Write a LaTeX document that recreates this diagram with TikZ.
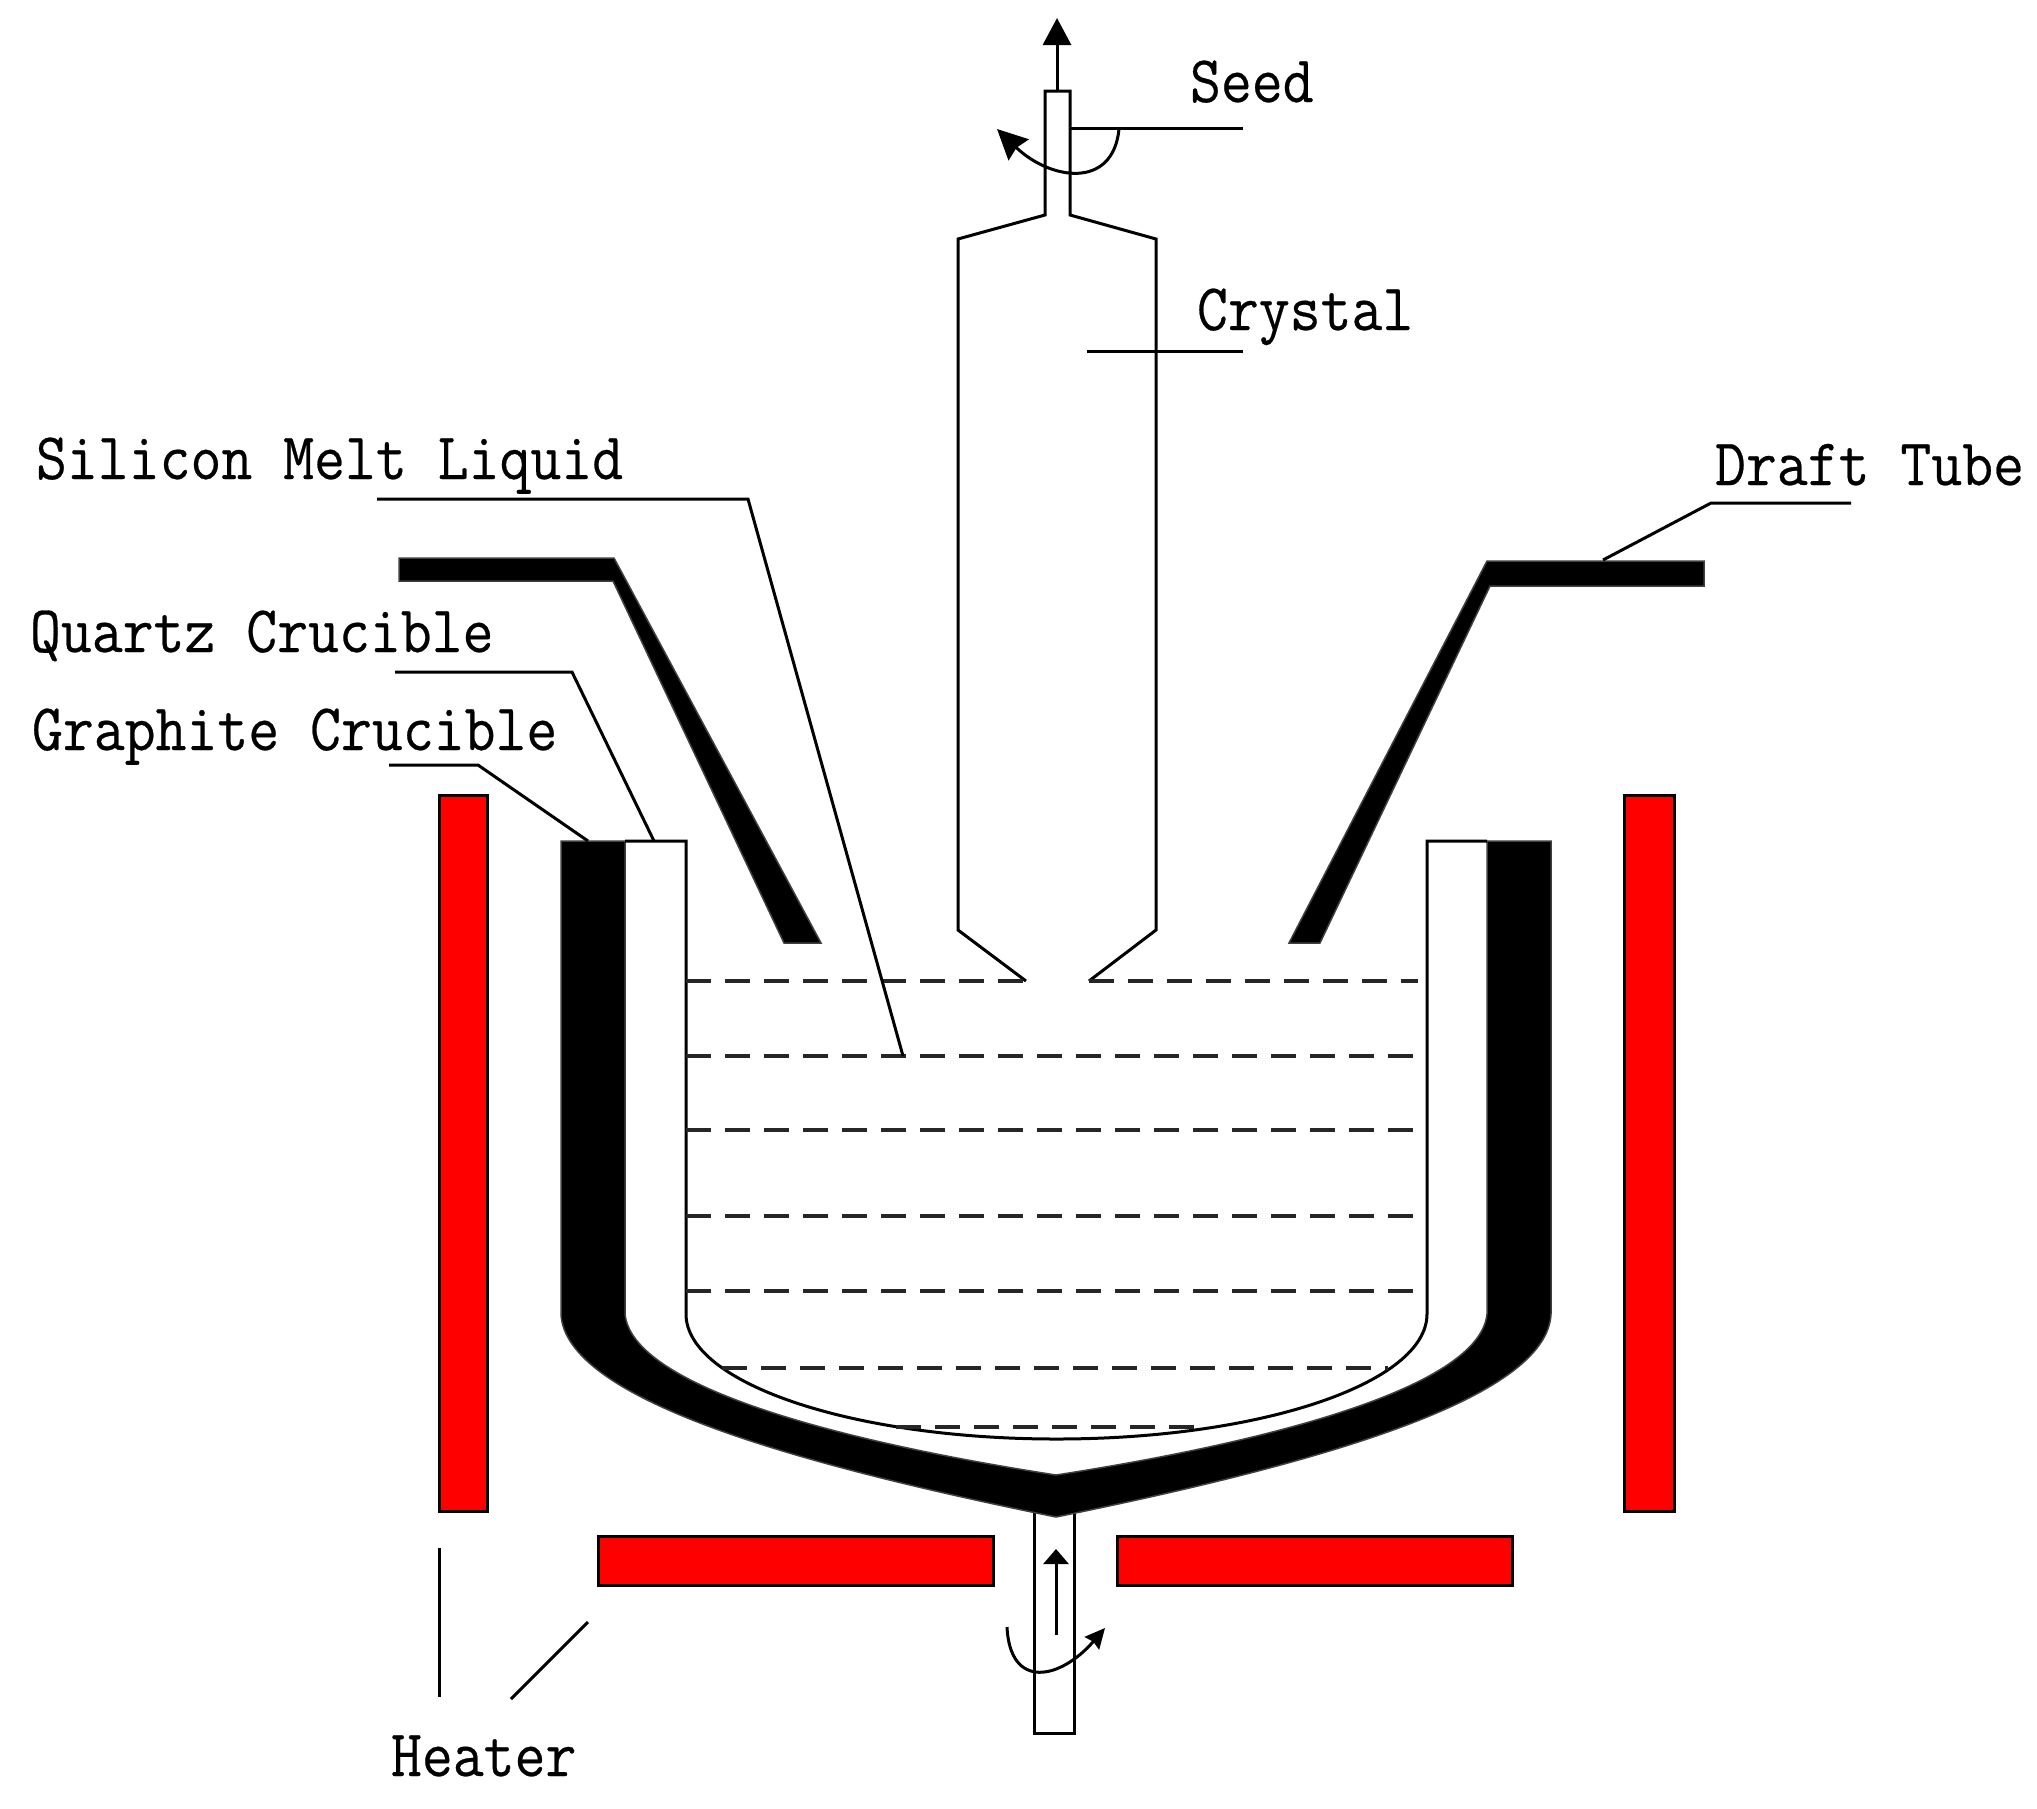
\documentclass[tikz,border=0pt]{standalone}
\usepackage{fontspec}
\newfontfamily\labfont[FakeBold=0.4]{Latin Modern Mono}
\usetikzlibrary{arrows.meta}
\definecolor{heat}{RGB}{255,0,0}
\tikzset{
  lab/.style={anchor=base west,inner sep=0pt,outer sep=0pt,font=\labfont\fontsize{60}{62}\selectfont,yscale=1.11,transform shape},
  ln/.style={line width=3pt,black},
  leader/.style={line width=3pt,black,line join=miter},
  heater/.style={draw=black,line width=3pt,fill=heat},
  solid body/.style={draw=black!75,line width=1.5pt,fill=black},
  melt/.style={line width=3.4pt,black!85,dash pattern=on 25pt off 14pt},
}
\begin{document}
\begin{tikzpicture}[x=1pt,y=-1pt,line join=miter]
\useasboundingbox[fill=white] (0,0) rectangle (2037,1808);
% labels
\node[lab] (seed) at (1190,102) {Seed};
\node[lab] (crystal) at (1197,330) {Crystal};
\node[lab] (melt) at (36,479) {Silicon Melt Liquid};
\node[lab] (quartz) at (30,652) {Quartz Crucible};
\node[lab] (graphite) at (32,750) {Graphite Crucible};
\node[lab] (draft) at (1715,485) {Draft Tube};
\node[lab] (heaterlab) at (391,1776) {Heater};
% lower shaft
\coordinate (shaftT) at (1056,1549);
\coordinate (shaftB) at (1056,1635);
\draw[ln,fill=white] (1034.5,1505) rectangle (1074.5,1733);
\draw[ln,-{Stealth[length=15pt,width=25pt,inset=0pt]}] (shaftB) -- (shaftT);
\coordinate (rotBs) at (1007,1627);
\coordinate (rotBe) at (1105,1628);
\draw[ln,-{Stealth[length=20pt,width=19pt,inset=2pt]}] (rotBs) .. controls (1010,1690) and (1060,1680) .. (rotBe);
% crystal
\draw[ln] (1026,981) -- (958,930) -- (958,239) -- (1045,215) -- (1045,91) -- (1070,91) -- (1070,215) -- (1156,239) -- (1156,930) -- (1089,981);
\coordinate (pullA) at (1057,91);
\coordinate (pullB) at (1057,18);
\draw[ln,-{Stealth[length=27pt,width=28pt,inset=0pt]}] (pullA) -- (pullB);
\coordinate (rotTs) at (1119,129);
\coordinate (rotTe) at (997,129);
\draw[ln,-{Stealth[length=30pt,width=29pt,inset=3pt]}] (rotTs) .. controls (1113,190) and (1050,180) .. (rotTe);
% draft tube
\draw[solid body] (399,558) -- (614,558) -- (821,943) -- (784,943) -- (613,581) -- (399,581) -- cycle;
\draw[solid body] (1487,561) -- (1704,561) -- (1704,586) -- (1490,586) -- (1320,943) -- (1289,943) -- cycle;
% graphite crucible
\draw[solid body] (561,841) -- (561,1314)
  .. controls (565,1400) and (800,1465) .. (1056,1517)
  .. controls (1312,1465) and (1547,1400) .. (1551,1314)
  -- (1551,841) -- (1487,841) -- (1487,1314)
  .. controls (1480,1385) and (1282,1440) .. (1056,1475)
  .. controls (830,1440) and (632,1385) .. (625,1314)
  -- (625,841) -- cycle;
% quartz crucible
\draw[ln] (625,841) -- (686,841) -- (686,1314)
  .. controls (686,1383) and (852,1439) .. (1056.5,1439)
  .. controls (1261,1439) and (1427,1383) .. (1427,1314)
  -- (1427,841) -- (1487,841);
% melt levels
\draw[melt] (686,981) -- (1028,981);
\draw[melt] (1089,981) -- (1418,981);
\draw[melt] (686,1056) -- (1418,1056);
\draw[melt] (686,1130) -- (1418,1130);
\draw[melt] (686,1216) -- (1418,1216);
\draw[melt] (686,1291) -- (1418,1291);
\draw[melt] (722,1368) -- (1388,1368);
\draw[melt] (896,1427) -- (1198,1427);
% heaters
\draw[heater] (439,795) rectangle (487.5,1511);
\draw[heater] (1624.5,795) rectangle (1674.5,1511);
\draw[heater] (598.5,1536) rectangle (993.5,1585.5);
\draw[heater] (1117.5,1536) rectangle (1512.5,1585.5);
% leaders
\draw[leader] (1070,128) -- (1243,128);
\draw[leader] (1087,351) -- (1243,351);
\draw[leader] (377,499) -- (748,499) -- (903,1056);
\draw[leader] (395,672) -- (572,672) -- (654,841);
\draw[leader] (389,765) -- (478,765) -- (588,841);
\draw[leader] (1851,503) -- (1711,503) -- (1603,560);
\draw[leader] (439,1548) -- (439,1697);
\draw[leader] (588,1622) -- (511,1699);
\end{tikzpicture}
\end{document}
